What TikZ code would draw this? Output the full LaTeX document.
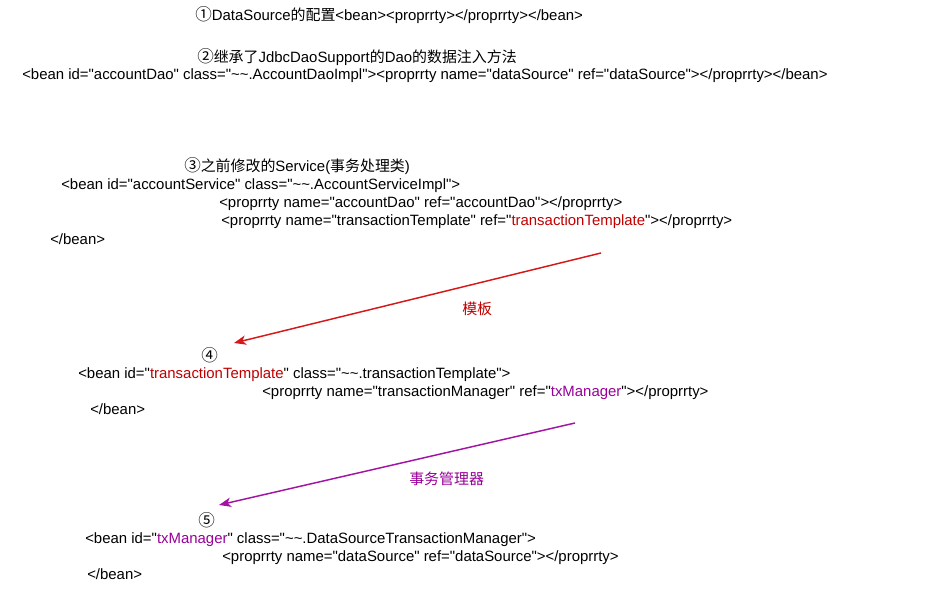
\documentclass[tikz,border=0pt]{standalone}
\usepackage{fontspec}
\setmainfont{Liberation Sans}[Ligatures=TeXOff]
\newfontfamily\cjk{Noto Sans CJK SC}
\usetikzlibrary{arrows.meta}
\definecolor{tred}{RGB}{192,0,0}
\definecolor{ared}{RGB}{214,24,24}
\definecolor{tpur}{RGB}{153,0,153}
\definecolor{apur}{RGB}{163,20,163}
\newcommand{\zh}[1]{{\cjk #1}}
\newcommand{\circnum}[1]{{\cjk\fontsize{12.4}{13}\selectfont #1}}
\begin{document}
\begin{tikzpicture}[x=0.75pt,y=-0.75pt,
  txt/.style={anchor=base west,inner sep=0pt,font=\fontsize{11.2}{13}\selectfont},
  arr/.style={line width=1.1pt,-{Stealth[length=9pt,width=7pt,inset=2.5pt]}}]
\useasboundingbox[fill=white] (0,0) rectangle (928,605);
\node[txt] (t1) at (195,20.5) {\circnum{①}DataSource\zh{的配置}<bean><proprrty></proprrty></bean>};
\node[txt] (t2) at (197,62.5) {\circnum{②}\zh{继承了}JdbcDaoSupport\zh{的}Dao\zh{的数据注入方法}};
\node[txt] (t3) at (22,79.5) {<bean id="accountDao" class="\textasciitilde\textasciitilde.AccountDaoImpl"><proprrty name="dataSource" ref="dataSource"></proprrty></bean>};
\node[txt] (t4) at (184,171.5) {\circnum{③}\zh{之前修改的}Service(\zh{事务处理类})};
\node[txt] (t5) at (61,189.5) {<bean id="accountService" class="\textasciitilde\textasciitilde.AccountServiceImpl">};
\node[txt] (t6) at (219,207.5) {<proprrty name="accountDao" ref="accountDao"></proprrty>};
\node[txt] (t7) at (221,225.5) {<proprrty name="transactionTemplate" ref="\textcolor{tred}{transactionTemplate}"></proprrty>};
\node[txt] (t8) at (50,244.5) {</bean>};
\node[txt,text=tred] (l1) at (462,314.5) {\zh{模板}};
\node[txt] (t9) at (201,361.5) {\circnum{④}};
\node[txt] (t10) at (78,378.5) {<bean id="\textcolor{tred}{transactionTemplate}" class="\textasciitilde\textasciitilde.transactionTemplate">};
\node[txt] (t11) at (262,396.5) {<proprrty name="transactionManager" ref="\textcolor{tpur}{txManager}"></proprrty>};
\node[txt] (t12) at (90,414.5) {</bean>};
\node[txt,text=tpur] (l2) at (409,484.5) {\zh{事务管理器}};
\node[txt] (t13) at (198,526.5) {\circnum{⑤}};
\node[txt] (t14) at (85,543.5) {<bean id="\textcolor{tpur}{txManager}" class="\textasciitilde\textasciitilde.DataSourceTransactionManager">};
\node[txt] (t15) at (222,561.5) {<proprrty name="dataSource" ref="dataSource"></proprrty>};
\node[txt] (t16) at (87,579.5) {</bean>};
\coordinate (a1s) at (601,253);
\coordinate (a1e) at (234,343);
\coordinate (a2s) at (575,423);
\coordinate (a2e) at (219,505);
\draw[arr,ared] (a1s) -- (a1e);
\draw[arr,apur] (a2s) -- (a2e);
\end{tikzpicture}
\end{document}
